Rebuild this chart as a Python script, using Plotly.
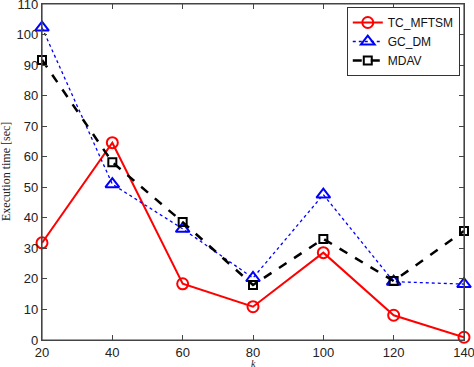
import plotly.graph_objects as go

k = [20, 40, 60, 80, 100, 120, 140]
tc_mftsm = [31.8, 64.6, 18.4, 10.9, 28.6, 8.1, 0.9]
gc_dm = [102.3, 51.0, 36.4, 20.3, 47.6, 19.1, 18.3]
mdav = [91.7, 58.2, 38.6, 18.0, 33.1, 19.3, 35.7]

fig = go.Figure()
fig.add_trace(go.Scatter(x=k, y=tc_mftsm, name="TC_MFTSM", mode="lines+markers",
                         line=dict(color="#ff0000", width=2),
                         marker=dict(symbol="circle-open", size=11, color="#ff0000", line=dict(width=2)),
                         cliponaxis=False))
fig.add_trace(go.Scatter(x=k, y=gc_dm, name="GC_DM", mode="lines+markers",
                         line=dict(color="#0000ff", width=1.3, dash="dot"),
                         marker=dict(symbol="triangle-up-open", size=12, color="#0000ff", line=dict(width=2)),
                         cliponaxis=False))
fig.add_trace(go.Scatter(x=k, y=mdav, name="MDAV", mode="lines+markers",
                         line=dict(color="#000000", width=2.5, dash="dash"),
                         marker=dict(symbol="square-open", size=8, color="#000000", line=dict(width=2)),
                         cliponaxis=False))

axis_common = dict(showline=True, linecolor="#444444", linewidth=1.2, mirror="allticks",
                   ticks="inside", ticklen=5, tickcolor="#444444", showgrid=False, zeroline=False,
                   automargin=False, ticklabeloverflow="allow",
                   tickfont=dict(family="Liberation Sans, Arial", size=13, color="#222222"))

fig.update_layout(
    width=474, height=367,
    margin=dict(l=42, r=10, t=4, b=27, autoexpand=False),
    paper_bgcolor="white", plot_bgcolor="white",
    showlegend=True,
    legend=dict(x=0.99, y=0.991, xanchor="right", yanchor="top",
                bordercolor="#333333", borderwidth=1, bgcolor="white",
                font=dict(family="Liberation Sans, Arial", size=12, color="#111111"),
                tracegroupgap=0, itemwidth=30),
    xaxis=dict(range=[20, 140], tickvals=k, **axis_common),
    yaxis=dict(range=[0, 110], tickvals=list(range(0, 111, 10)), **axis_common),
    shapes=[dict(type="rect", xref="paper", yref="paper", x0=0, x1=1, y0=0, y1=1,
                 line=dict(color="#444444", width=1.2), layer="above")],
    annotations=[
        dict(text="<i>k</i>", xref="paper", yref="paper", x=0.5, y=0, yshift=-23,
             xanchor="center", yanchor="middle", showarrow=False,
             font=dict(family="Liberation Serif, Times New Roman", size=10, color="#222222")),
        dict(text="Execution time [sec]", xref="paper", yref="paper", x=0, xshift=-36, y=0.5,
             xanchor="center", yanchor="middle", textangle=-90, showarrow=False,
             font=dict(family="Liberation Serif, Times New Roman", size=12, color="#222222")),
    ],
)

fig.write_html("out.html", config={"displayModeBar": False},
               post_script="document.body.style.margin='0';")
